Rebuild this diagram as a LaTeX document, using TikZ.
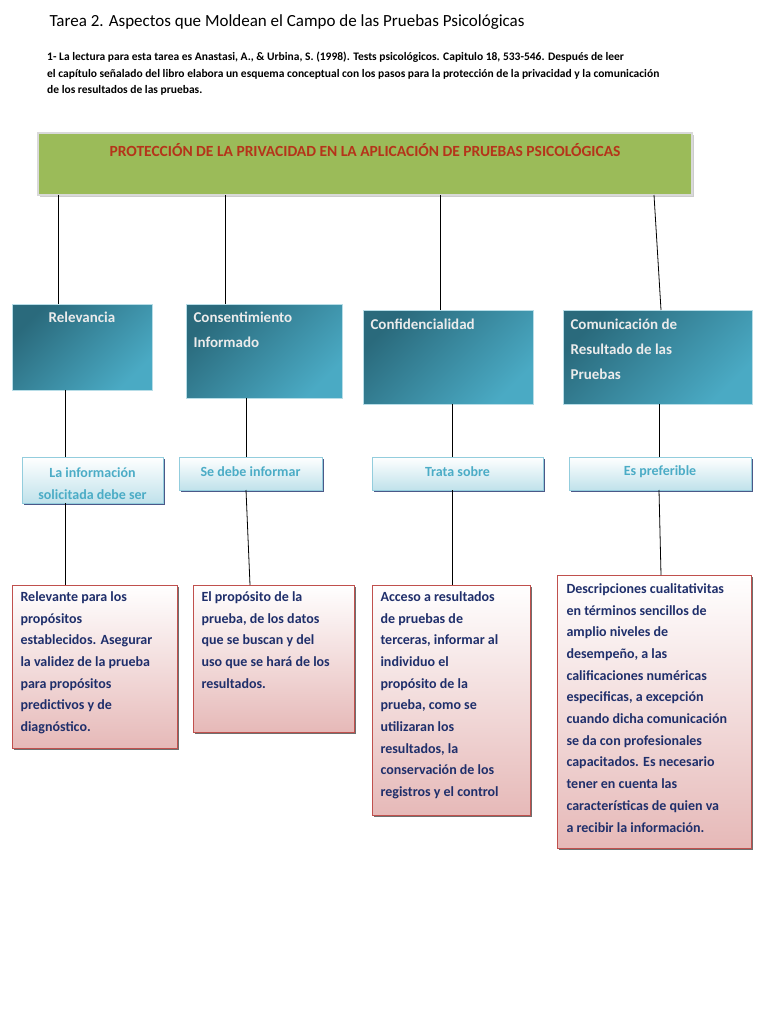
\documentclass[tikz,border=0pt]{standalone}
\usepackage{fontspec}
\setmainfont{Carlito}
\usetikzlibrary{shadows}
\definecolor{tealA}{HTML}{2A6A7C}
\definecolor{tealB}{HTML}{4AAAC4}
\definecolor{navy}{HTML}{1F2F6B}
\definecolor{redb}{HTML}{C0504D}
\definecolor{pinkb}{HTML}{E6B9B8}
\definecolor{titred}{HTML}{B5341A}
\definecolor{greenb}{HTML}{9BBB59}
\definecolor{lblue}{HTML}{4BACC6}
\begin{document}
\begin{tikzpicture}[x=1pt,y=-1pt,
 ln/.style={draw=black,line width=0.8pt},
 topbox/.style={draw=tealB!40,line width=1pt,left color=tealA,right color=tealB,shading angle=45,drop shadow={shadow xshift=1pt,shadow yshift=-1pt,opacity=.3}},
 lblbox/.style={draw=lblue!60!white,line width=0.8pt,top color=white,bottom color=lblue!35!white,drop shadow={shadow xshift=1.5pt,shadow yshift=-1.5pt,fill=navy,opacity=.8}},
 botbox/.style={draw=redb,line width=0.8pt,top color=white,bottom color=pinkb,drop shadow={shadow xshift=2pt,shadow yshift=-2pt,fill=black!70,opacity=.8}},
 tt/.style={text=white!92!black,font=\bfseries\fontsize{15}{25}\selectfont,align=left,anchor=north west},
 lt/.style={text=lblue,font=\bfseries\fontsize{14}{22}\selectfont,align=center},
 bt/.style={text=navy,font=\bfseries\fontsize{14}{21.7}\selectfont,align=left,anchor=north west}]
\useasboundingbox (0,0) rectangle (768,1024);
\fill[white] (0,0) rectangle (768,1024);
\node[anchor=west,font=\fontsize{17}{20}\selectfont] (hdr) at (46,22) {Tarea 2. Aspectos que Moldean el Campo de las Pruebas Psicológicas};
\node[anchor=north west,inner sep=0,font=\bfseries\fontsize{11.5}{16.5}\selectfont,align=left] (par) at (47,52) {1- La lectura para esta tarea es Anastasi, A., \& Urbina, S. (1998). Tests psicológicos. Capitulo 18, 533-546. Después de leer\\el capítulo señalado del libro elabora un esquema conceptual con los pasos para la protección de la privacidad y la comunicación\\de los resultados de las pruebas.};
% title
\path[draw=white!85!black,line width=2pt,fill=greenb,drop shadow={shadow xshift=2pt,shadow yshift=-2pt,opacity=.4}] (38,133) rectangle (692,195);
\coordinate (T1) at (58,195);\coordinate (T2) at (225,195);\coordinate (T3) at (440,195);\coordinate (T4) at (654,195);
\node[text=titred,font=\bfseries\fontsize{15.5}{18}\selectfont] (title) at (365,150) {PROTECCIÓN DE LA PRIVACIDAD EN LA APLICACIÓN DE PRUEBAS PSICOLÓGICAS};
% level 2
\path[topbox] (12,304) rectangle (152,390);
\path[topbox] (186,304) rectangle (342,398);
\path[topbox] (363,310) rectangle (533,404);
\path[topbox] (563,310) rectangle (752,404);
\node[tt,anchor=north] (r) at (82,308) {Relevancia};
\node[tt] (c) at (190,308) {Consentimiento\\Informado};
\node[tt] (f) at (367,315) {Confidencialidad};
\node[tt] (m) at (567,315) {Comunicación de\\Resultado de las\\Pruebas};
\draw[ln] (T1) -- (58,304); \draw[ln] (T2) -- (225,304); \draw[ln] (T3) -- (440,310); \draw[ln] (T4) -- (661,310);
% level 3
\path[lblbox] (22,457) rectangle (163,503);
\path[lblbox] (179,457) rectangle (322,490);
\path[lblbox] (372,457) rectangle (543,490);
\path[lblbox] (569,457) rectangle (751,490);
\begin{scope}
\clip (22,457) rectangle (163,500);
\node[lt] (l1) at (92.5,484) {La información\\solicitada debe ser};
\end{scope}
\node[lt] (l2) at (250.5,472) {Se debe informar};
\node[lt] (l3) at (457.5,472) {Trata sobre};
\node[lt] (l4) at (660,472) {Es preferible};
\draw[ln] (65,390) -- (65,457); \draw[ln] (246,398) -- (246,457);
\draw[ln] (452,404) -- (452,457); \draw[ln] (659,404) -- (659,457);
% bottom
\path[botbox] (12,585) rectangle (177,748);
\path[botbox] (193,585) rectangle (354,732);
\path[botbox] (372,585) rectangle (530,815);
\path[botbox] (557,575) rectangle (751,848);
\draw[ln] (65,503) -- (65,585); \draw[ln] (246,490) -- (250,585);
\draw[ln] (452,490) -- (452,585); \draw[ln] (659,490) -- (661,575);
\node[bt] (b1) at (17,588) {Relevante para los\\propósitos\\establecidos. Asegurar\\la validez de la prueba\\para propósitos\\predictivos y de\\diagnóstico.};
\node[bt] (b2) at (198,588) {El propósito de la\\prueba, de los datos\\que se buscan y del\\uso que se hará de los\\resultados.};
\node[bt] (b3) at (377,588) {Acceso a resultados\\de pruebas de\\terceras, informar al\\individuo el\\propósito de la\\prueba, como se\\utilizaran los\\resultados, la\\conservación de los\\registros y el control};
\node[bt] (b4) at (563,580) {Descripciones cualitativitas\\en términos sencillos de\\amplio niveles de\\desempeño, a las\\calificaciones numéricas\\especificas, a excepción\\cuando dicha comunicación\\se da con profesionales\\capacitados. Es necesario\\tener en cuenta las\\características de quien va\\a recibir la información.};
\end{tikzpicture}
\end{document}
